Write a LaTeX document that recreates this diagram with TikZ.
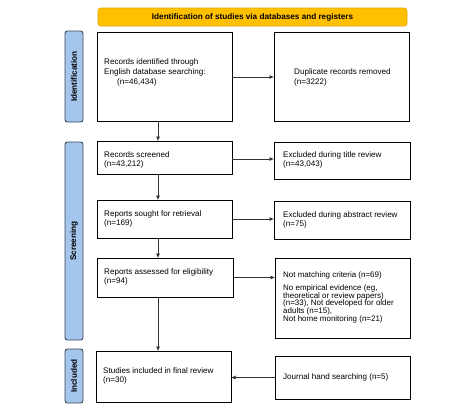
\documentclass[tikz,border=0pt]{standalone}
\usepackage{fontspec}
\setmainfont{Liberation Sans}
\usetikzlibrary{arrows.meta,calc}
\definecolor{bannerfill}{HTML}{FFC000}
\definecolor{bannerdraw}{HTML}{E0A800}
\definecolor{sidefill}{HTML}{A5C6EC}
\definecolor{sidedraw}{HTML}{3A4656}
\tikzset{
  box/.style={draw=black, line width=0.9bp, anchor=north west, inner sep=0pt, outer sep=0pt},
  side/.style={draw=sidedraw, fill=sidefill, line width=0.9bp, rounded corners=2.5bp, anchor=north west, inner sep=0pt, outer sep=0pt},
  banner/.style={draw=bannerdraw, fill=bannerfill, line width=0.6bp, rounded corners=2.5bp, anchor=north west, inner sep=0pt, outer sep=0pt},
  txt/.style={anchor=west, align=left, inner sep=0pt, font=\fontsize{8.1}{9.5}\selectfont},
  sidetxt/.style={rotate=90, inner sep=0pt, font=\fontsize{8.2}{9}\selectfont\bfseries},
  conn/.style={line width=0.7bp, draw=black!80},
  arr/.style={conn, -{Latex[length=4.5bp,width=4bp]}},
}
\begin{document}
\begin{tikzpicture}[x=1bp,y=-1bp]
\useasboundingbox (0,0) rectangle (474,412);
\fill[white] (0,0) rectangle (474,412);
% banner
\node[banner, minimum width=309bp, minimum height=18bp] (ban) at (98,8) {};
\node[inner sep=0pt, font=\fontsize{8.2}{9}\selectfont\bfseries] (bantxt) at (ban.center) {Identification of studies via databases and registers};
% side bars
\node[side, minimum width=18bp, minimum height=91bp] (sid) at (65,31) {};
\node[sidetxt] (sidt) at (sid.center) {Identification};
\node[side, minimum width=18bp, minimum height=198bp] (sscr) at (65,142) {};
\node[sidetxt] (sscrt) at (sscr.center) {Screening};
\node[side, minimum width=18bp, minimum height=54bp] (sinc) at (65,349) {};
\node[sidetxt] (sinct) at (sinc.center) {Included};
% left column
\node[box, minimum width=135bp, minimum height=89bp] (a) at (97,32) {};
\node[txt, font=\fontsize{8.1}{10}\selectfont] (at) at (104,72) {Records identified through\\English database searching:\\\hspace*{13bp}(n=46,434)};
\node[box, minimum width=135bp, minimum height=33bp] (s1) at (97,141) {};
\node[txt, font=\fontsize{8.1}{8.8}\selectfont] (s1t) at (104,160) {Records screened\\(n=43,212)};
\node[box, minimum width=135bp, minimum height=38bp] (s2) at (97,200) {};
\node[txt] (s2t) at (104,219) {Reports sought for retrieval\\(n=169)};
\node[box, minimum width=136bp, minimum height=39bp] (s3) at (97,258) {};
\node[txt] (s3t) at (104,277) {Reports assessed for eligibility\\(n=94)};
\node[box, minimum width=135bp, minimum height=51bp] (st) at (96,351) {};
\node[txt] (stt) at (103,376) {Studies included in final review\\(n=30)};
% right column
\node[box, minimum width=135bp, minimum height=89bp] (b) at (274,32) {};
\node[txt, font=\fontsize{8.1}{10}\selectfont] (bt) at (294,77) {Duplicate records removed\\(n=3222)};
\node[box, minimum width=136bp, minimum height=37bp] (e1) at (274,142) {};
\node[txt] (e1t) at (283,160) {Excluded during title review\\(n=43,043)};
\node[box, minimum width=136bp, minimum height=38bp] (e2) at (274,201) {};
\node[txt] (e2t) at (283,220) {Excluded during abstract review\\(n=75)};
\node[box, minimum width=135bp, minimum height=80bp] (e3) at (275,258) {};
\node[txt, font=\fontsize{8}{7.6}\selectfont] (e3t) at (283,297) {Not matching criteria (n=69)\\[6bp]No empirical evidence (eg,\\theoretical or review papers)\\(n=33), Not developed for older\\adults (n=15),\\Not home monitoring (n=21)};
\node[box, minimum width=135bp, minimum height=43bp] (j) at (275,356) {};
\node[txt] (jt) at (283,377) {Journal hand searching (n=5)};
% connectors
\coordinate (xv) at (158,0);
\draw[arr] (a.south -| xv) -- (s1.north -| xv);
\draw[arr] (s1.south -| xv) -- (s2.north -| xv);
\draw[arr] (s2.south -| xv) -- (s3.north -| xv);
\draw[arr] (s3.south -| xv) -- (st.north -| xv);
\draw[arr] ($(a.east)+(0,0.5)$) -- ($(a.east -| b.west)+(0,0.5)$);
\draw[arr] ($(s1.east)+(0,1.5)$) -- ($(s1.east -| e1.west)+(0,1.5)$);
\draw[arr] (s2.east) -- (s2.east -| e2.west);
\draw[arr] (s3.east) -- (s3.east -| e3.west);
\draw[arr] (j.west) -- (j.west -| st.east);
\end{tikzpicture}
\end{document}
